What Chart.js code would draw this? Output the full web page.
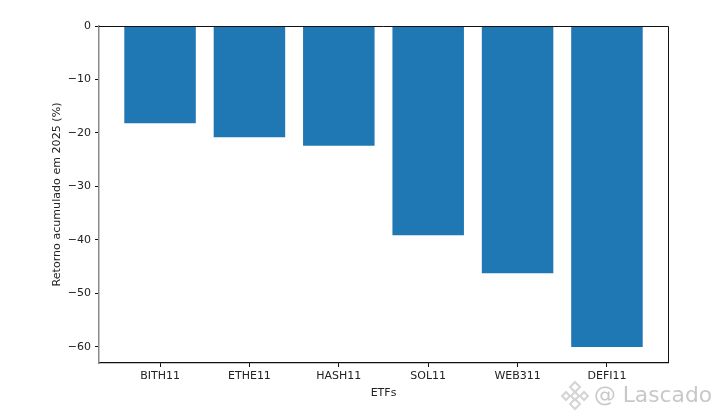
<!DOCTYPE html>
<html>
<head>
<meta charset="utf-8">
<style>
    html, body { margin: 0; padding: 0; background: #fff; }
    canvas { display: block; }
</style>
<script src="https://cdn.jsdelivr.net/npm/chart.js@4"></script>
</head>
<body>
<canvas id="chart" width="720" height="420"></canvas>
<script>
const categories = ['BITH11', 'ETHE11', 'HASH11', 'SOL11', 'WEB311', 'DEFI11'];
const returns = [-18.2, -20.8, -22.4, -39.1, -46.2, -60.0];
const yTicks = [0, -10, -20, -30, -40, -50, -60];
const FONT = '"DejaVu Sans"';

// top and right spines, chart.js only draws the axis borders
const frame = {
    id: 'frame',
    afterDatasetsDraw(chart) {
        const { ctx, chartArea: a } = chart;
        ctx.save();
        ctx.strokeStyle = '#111';
        ctx.lineWidth = 1;
        ctx.beginPath();
        ctx.moveTo(a.left, a.top + 0.5);
        ctx.lineTo(a.right + 0.5, a.top + 0.5);
        ctx.lineTo(a.right + 0.5, a.bottom);
        ctx.stroke();
        ctx.restore();
    }
};

const watermark = {
    id: 'watermark',
    afterDraw(chart) {
        const ctx = chart.ctx;
        ctx.save();
        ctx.fillStyle = '#c8c8c8';
        ctx.strokeStyle = '#d4d4d4';
        ctx.lineWidth = 2;
        ctx.font = '21.8px ' + FONT;
        ctx.textBaseline = 'middle';
        ctx.fillText('@ Lascado', 594, 396);
        [[575, 387, 5], [566, 396, 4], [584, 396, 4], [575, 396, 4], [575, 404, 5]].forEach(([x, y, r]) => {
            ctx.beginPath();
            ctx.moveTo(x, y - r);
            ctx.lineTo(x + r, y);
            ctx.lineTo(x, y + r);
            ctx.lineTo(x - r, y);
            ctx.closePath();
            ctx.stroke();
        });
        ctx.restore();
    }
};

new Chart(document.getElementById('chart'), {
    type: 'bar',
    data: {
        datasets: [{
            data: returns.map((v, i) => ({ x: i, y: v })),
            backgroundColor: '#1f77b4',
            barPercentage: 0.8,
            categoryPercentage: 1
        }]
    },
    options: {
        responsive: false,
        animation: false,
        layout: { padding: { top: 26, right: 52, bottom: 0, left: 0 } },
        plugins: { legend: { display: false }, tooltip: { enabled: false } },
        scales: {
            x: {
                type: 'linear',
                offset: false,
                min: -0.683,
                max: 5.683,
                afterBuildTicks: scale => { scale.ticks = categories.map((c, i) => ({ value: i })); },
                afterFit: scale => { scale.height = 57; },
                grid: { offset: false, drawOnChartArea: false, tickLength: 4, tickColor: '#111' },
                border: { color: '#111', width: 1.2 },
                ticks: {
                    callback: v => categories[v],
                    color: '#222',
                    font: { family: FONT, size: 11 },
                    padding: 3,
                    maxRotation: 0,
                    autoSkip: false
                },
                title: {
                    display: true,
                    text: 'ETFs',
                    color: '#222',
                    font: { family: FONT, size: 11 },
                    padding: { top: 4, bottom: 20 }
                }
            },
            y: {
                min: -63,
                max: 0,
                afterBuildTicks: scale => { scale.ticks = yTicks.map(v => ({ value: v })); },
                afterFit: scale => { scale.width = 99; },
                grid: { drawOnChartArea: false, tickLength: 4, tickColor: '#111' },
                border: { color: '#8a8a8a', width: 1.5 },
                ticks: {
                    callback: v => String(v).replace('-', '\u2212'),
                    color: '#222',
                    font: { family: FONT, size: 11 },
                    padding: 4
                },
                title: {
                    display: true,
                    text: 'Retorno acumulado em 2025 (%)',
                    color: '#222',
                    font: { family: FONT, size: 11.1 },
                    padding: { top: 50, bottom: 0 }
                }
            }
        }
    },
    plugins: [frame, watermark]
});
</script>
</body>
</html>
